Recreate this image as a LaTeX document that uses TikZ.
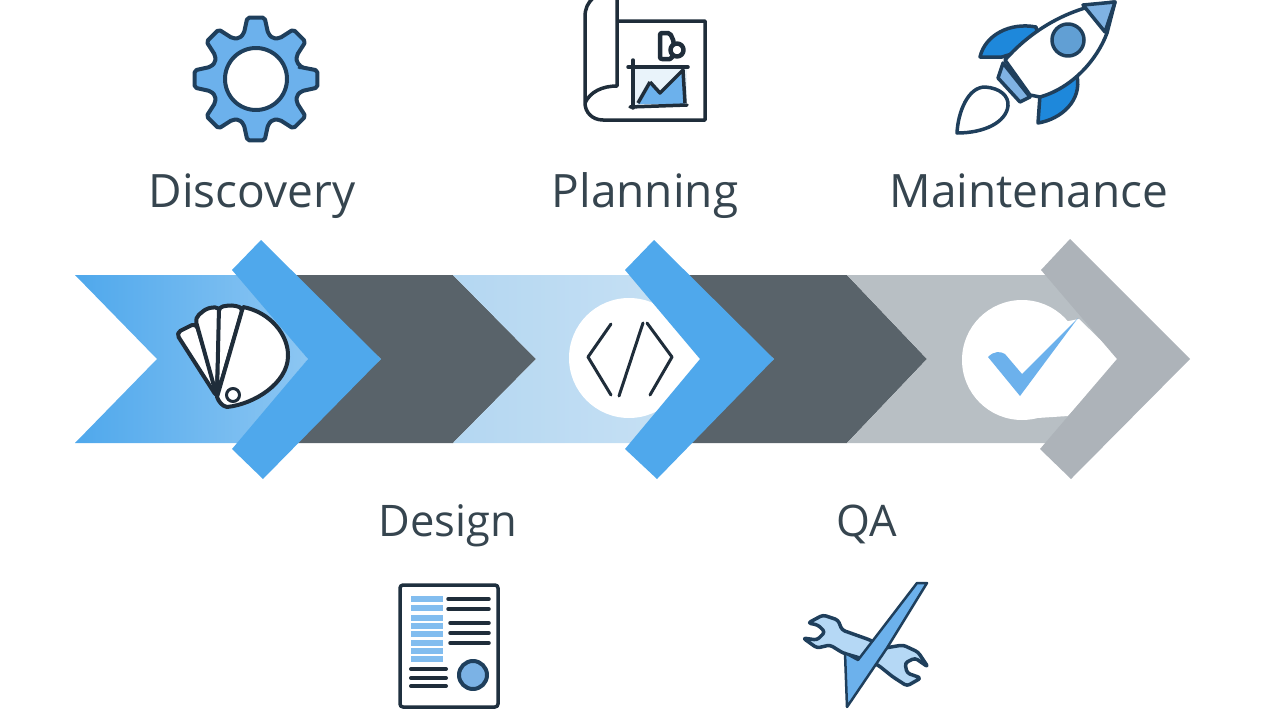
\documentclass[tikz,border=0pt]{standalone}
\usepackage{fontspec}
\setmainfont{Open Sans}
\definecolor{skyblue}{HTML}{4FA8EC}
\definecolor{paleblue}{HTML}{BFDCF2}
\definecolor{slatedark}{HTML}{59636A}
\definecolor{greybody}{HTML}{B8BFC4}
\definecolor{greyband}{HTML}{ADB3B9}
\definecolor{iconfill}{HTML}{6CB1EC}
\definecolor{iconline}{HTML}{1F3F5C}
\definecolor{inkline}{HTML}{1F2D3A}
\definecolor{fintone}{HTML}{1E88DB}
\definecolor{softblue}{HTML}{7FB2E3}
\definecolor{labeltext}{HTML}{36454F}
\tikzset{
  steplabel/.style={text=labeltext,inner sep=0pt,anchor=base,font=\fontsize{46}{52}\selectfont},
  lowlabel/.style={steplabel,font=\fontsize{43.5}{50}\selectfont},
  iconpath/.style={draw=iconline,line width=3.5pt,line join=round},
  inkpath/.style={draw=inkline,line width=3.5pt,line join=round,line cap=round}
}
\begin{document}
\begin{tikzpicture}[x=1pt,y=-1pt]
  \useasboundingbox (0,0) rectangle (1280,720);

  % arrow bodies
  \shade[left color=skyblue,right color=skyblue!65!white]
    (75,275) -- (240,275) -- (308,359) -- (240,443) -- (75,443) -- (157,359) -- cycle;
  \fill[slatedark] (290,275) -- (453,275) -- (536,359) -- (453,443) -- (290,443) -- (381,359) -- cycle;
  \shade[left color=paleblue!90!skyblue,right color=paleblue!85!white]
    (453,275) -- (640,275) -- (700,359) -- (640,443) -- (453,443) -- (536,359) -- cycle;
  \fill[slatedark] (680,275) -- (847,275) -- (927,359) -- (847,443) -- (680,443) -- (774,359) -- cycle;
  \fill[greybody] (847,275) -- (1050,275) -- (1117,359) -- (1050,443) -- (847,443) -- (927,359) -- cycle;

  % white discs
  \fill[white] (629,358) circle (60);
  \fill[white] (666,308) -- (702,359) -- (670,397) -- (630,400) -- (630,320) -- cycle;
  \fill[white] (1022,360) circle (60);
  \fill[white] (1079,319) -- (1120,359) -- (1068,416) -- (1022,419) -- (1022,330) -- cycle;

  % bands
  \fill[skyblue] (261,240) -- (381,359) -- (263,479) -- (232,449) -- (308,359) -- (232,270) -- cycle;
  \fill[skyblue] (654,240) -- (774,359) -- (657,479) -- (625,449) -- (700,359) -- (625,270) -- cycle;
  \fill[greyband] (1070,239) -- (1190,359) -- (1071,479) -- (1040,449) -- (1117,359) -- (1041,270) -- cycle;

  % swatch fan
  \begin{scope}[inkpath,line width=4pt,fill=white]
    \filldraw[rounded corners=5pt] (217,397) -- (176,333) -- (196,323) -- (217,390) -- cycle;
    \filldraw[rounded corners=5pt] (217,397) -- (195,318) -- (207,308) -- (220,307) -- (217,390) -- cycle;
    \filldraw[rounded corners=4pt] (217,397) -- (219,307) -- (232,305) -- (243,308) -- cycle;
    \filldraw (243,307) .. controls (270,312) and (289,335) .. (288,357)
      .. controls (287,383) and (255,404) .. (227,407)
      .. controls (222,406) and (219,402) .. (217,397) -- cycle;
    \filldraw[line width=3pt] (233,395) circle (6.5);
  \end{scope}

  % code sign
  \draw[inkpath,line width=3pt] (611,324) -- (588,357) -- (611,395);
  \draw[inkpath,line width=3pt] (643,323) -- (619,396);
  \draw[inkpath,line width=3pt] (647,323) -- (672,357) -- (650,395);

  % tick
  \fill[iconfill] (988,357) .. controls (994,351) and (1000,351) .. (1005,354) -- (1022,374)
    -- (1078,318) -- (1020,396) -- cycle;

  % gear
  \begin{scope}[shift={(256,79)}]
    \filldraw[iconpath,line width=4pt,fill=iconfill,rounded corners=2pt] (-15:46)
      \foreach \a in {0,45,...,315} {
        -- (\a-8:62) -- (\a+8:62) -- (\a+15:47) -- (\a+22.5:44) -- (\a+30:47)
      } -- cycle;
    \filldraw[iconpath,line width=4pt,fill=white] (0,0) circle (31);
  \end{scope}

  % blueprint
  \draw[iconpath,draw=inkline,fill=white] (617,86) -- (617,21) -- (705,21) -- (705,120) -- (603,120)
    .. controls (592,120) and (585,112) .. (585,103) -- (585,17) .. controls (585,8) and (588,3) .. (593,-2)
    -- (617,-2) -- (617,86) .. controls (602,86) and (590,92) .. (585,103);
  \filldraw[iconpath,draw=inkline,line width=4.5pt,fill=white,rounded corners=2pt]
    (660,33) -- (670,33) -- (674,42) -- (672,59) -- (660,59) -- cycle;
  \filldraw[iconpath,draw=inkline,line width=4.5pt,fill=white] (677,50) circle (6.5);
  \fill[paleblue!35!white] (633,67) rectangle (687,105);
  \fill[iconfill] (638,104) -- (650,82) -- (660,93) -- (683,70) -- (685,104) -- cycle;
  \draw[iconpath,draw=inkline] (650,82) -- (660,93) -- (683,70) -- (685,103);
  \draw[iconpath,draw=inkline] (638,103) -- (650,82);
  \draw[iconpath,draw=inkline,line cap=round] (633,60) -- (633,108);
  \draw[iconpath,draw=inkline,line cap=round] (628,67) -- (688,67);
  \draw[iconpath,draw=inkline,line cap=round] (630,107) -- (687,105);

  % rocket
  \filldraw[iconpath,fill=fintone] (1036,27) .. controls (1010,22) and (985,35) .. (980,57) -- (1002,57)
    -- (1040,45) -- cycle;
  \filldraw[iconpath,fill=fintone] (1077,76) .. controls (1082,100) and (1062,119) .. (1038,123) -- (1040,95)
    -- (1060,70) -- cycle;
  \filldraw[iconpath,fill=softblue] (1003,63) -- (998,78) -- (1020,102) -- (1030,97) -- cycle;
  \filldraw[iconpath,fill=white] (1115,2) .. controls (1075,6) and (1035,26) .. (1005,60) -- (1030,95) -- (1040,97)
    .. controls (1072,88) and (1097,60) .. (1107,33) -- cycle;
  \filldraw[iconpath,fill=softblue] (1083,5) -- (1115,2) -- (1105,32) -- cycle;
  \filldraw[iconpath,fill=iconfill!90!black] (1068,40) circle (16);
  \filldraw[iconpath,fill=white] (957,133) .. controls (958,112) and (968,87) .. (985,87)
    .. controls (1000,88) and (1009,96) .. (1008,106) .. controls (1006,122) and (985,133) .. (957,133) -- cycle;

  % sheet with lines
  \draw[iconpath,fill=white,rounded corners=3pt,draw=inkline!85!iconline] (400,585) rectangle (498,707);
  \foreach \y in {599,608,618,626,634,643,651,659}
    \draw[line width=6pt,draw=iconfill!85!white] (411,\y) -- (443,\y);
  \foreach \y in {599,609}
    \draw[inkpath,line width=3.5pt] (448,\y) -- (489,\y);
  \foreach \y in {623,633,643}
    \draw[inkpath,line width=3.5pt] (450,\y) -- (489,\y);
  \foreach \y in {669,678,686}
    \draw[inkpath,line width=4pt] (411,\y) -- (446,\y);
  \filldraw[iconpath,line width=4pt,fill=softblue!80!iconfill] (473,675) circle (14);

  % wrench and check
  \filldraw[iconpath,line width=3.5pt,fill=iconfill!50!white,rounded corners=3pt]
    (808,623) -- (823,615) -- (838,620) -- (842,630) -- (870,640) -- (885,648) -- (903,645) -- (918,652) -- (928,667)
    -- (915,658) -- (905,663) -- (907,673) -- (921,678) -- (907,686) -- (893,677) -- (878,665)
    -- (860,658) -- (843,653) -- (830,645) -- (817,648) -- (803,638) -- (817,640) -- (825,632) -- (818,625) -- cycle;
  \filldraw[iconpath,line width=2.5pt,fill=iconfill] (927,583) -- (917,583) -- (858,660) -- (845,653) -- (847,707)
    -- (887,648) -- cycle;

  % labels
  \node[steplabel] (discovery) at (252,207) {Discovery};
  \node[steplabel] (planning) at (645,207) {Planning};
  \node[steplabel] (maintenance) at (1029,207) {Maintenance};
  \node[lowlabel] (design) at (448,536) {Design};
  \node[lowlabel] (qa) at (867,536) {QA};
\end{tikzpicture}
\end{document}
